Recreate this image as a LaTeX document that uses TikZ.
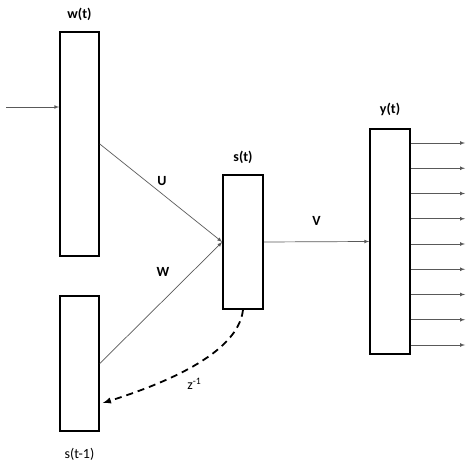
\documentclass[tikz,border=0pt]{standalone}
\usepackage{fontspec}
\setmainfont{Carlito}
\usepackage{tikz}
\usetikzlibrary{positioning}
\usetikzlibrary{arrows,shapes}
\tikzstyle{layer}=[rectangle,draw=black,line width=1.6pt,minimum width=39pt,inner sep=0pt]
\tikzstyle{edge} = [draw,line width=0.7pt,black!65,-latex]
\tikzstyle{delayedge} = [draw,line width=1.8pt,black,dash pattern=on 7pt off 5pt,-latex]
\tikzstyle{weight} = [text=black,font=\fontsize{14}{16}\selectfont\bfseries]
\tikzstyle{laytext} = [text=black,font=\fontsize{14}{16}\selectfont]

\begin{document}
\begin{tikzpicture}[x=1pt,y=-1pt]
\useasboundingbox (0,0) rectangle (474,470);

% layers
\node[layer,minimum height=224pt] (w) at (79.5,144) {};
\node[layer,minimum height=135pt] (sold) at (79.5,363.5) {};
\node[layer,minimum height=134pt,minimum width=40pt] (s) at (243,242) {};
\node[layer,minimum height=225pt,minimum width=40pt] (y) at (390,241.5) {};

% Label
\node[laytext,above=7pt of w] (wlab) {\textbf{w(t)}};
\node[laytext,above=7pt of s] (slab) {\textbf{s(t)}};
\node[laytext,above=9pt of y] (ylab) {\textbf{y(t)}};
\node[laytext,below=13pt of sold] (soldlab) {s(t-1)};

% input
\coordinate (in) at (6,107);
\path[edge] (in) -- (in -| w.west);

% Connect layers and draw weights
\path[edge] (w.east) -- node[weight,pos=0.5,xshift=1pt,yshift=12pt] {U} (s.west);
\path[edge] (sold.east) -- node[weight,pos=0.5,xshift=2pt,yshift=31pt] {W} (s.west);
\path[edge] (s.east) -- node[weight,pos=0.5,yshift=21pt] {V} (y.west);

% delay
\path[delayedge] (s.south) .. controls +(-5,45) and +(57,-18) .. ([xshift=3pt,yshift=-39.5pt]sold.east)
   node[laytext,pos=0.5,xshift=2pt,yshift=-17pt] (zlab) {z\textsuperscript{-1}};

% outputs
\foreach \i in {0,...,8}
  {
  \coordinate (o\i) at (465,143+25.25*\i);
  \path[edge] (o\i -| y.east) -- (o\i);
  }

\end{tikzpicture}
\end{document}
